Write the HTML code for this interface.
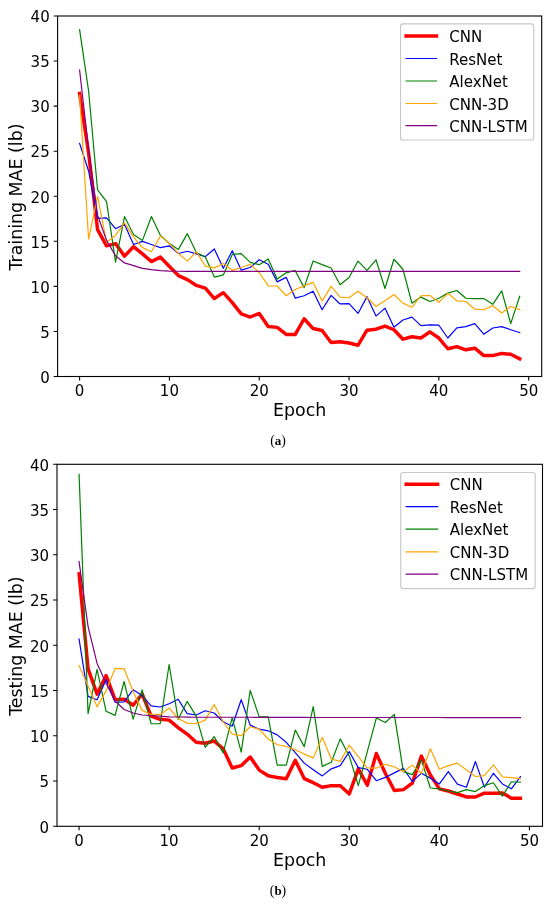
<!DOCTYPE html>
<html><head><meta charset="utf-8"><title>MAE</title>
<style>
html,body{margin:0;padding:0;background:#fff;}
svg{display:block;}
.tk{font-family:'DejaVu Sans','Liberation Sans',sans-serif;font-size:15.0px;fill:#000;}
.lab{font-family:'DejaVu Sans','Liberation Sans',sans-serif;font-size:17.4px;fill:#000;}
.lg{font-family:'DejaVu Sans','Liberation Sans',sans-serif;font-size:15.0px;fill:#000;}
.cap{font-family:'Liberation Serif','DejaVu Serif',serif;font-size:13.8px;fill:#000;}
</style></head>
<body>
<svg width="550" height="904" viewBox="0 0 550 904">
<rect width="550" height="904" fill="#fff"/>
<clipPath id="c16"><rect x="57.60" y="16.00" width="484.10" height="360.50"/></clipPath>
<g clip-path="url(#c16)" fill="none" stroke-linejoin="round" stroke-linecap="square">
<polyline points="79.60,93.51 88.59,152.99 97.57,229.60 106.55,245.82 115.53,243.57 124.51,256.18 133.49,246.72 142.47,253.93 151.46,261.59 160.44,257.08 169.42,266.55 178.40,275.56 187.38,279.62 196.36,285.47 205.34,288.18 214.33,298.54 223.31,292.68 232.29,302.60 241.27,313.86 250.25,317.02 259.23,313.41 268.21,326.48 277.20,327.38 286.18,334.41 295.16,334.59 304.14,318.73 313.12,328.55 322.10,330.54 331.09,342.43 340.07,341.71 349.05,342.97 358.03,345.23 367.01,330.18 375.99,329.18 384.97,326.03 393.96,329.73 402.94,339.19 411.92,336.75 420.90,338.02 429.88,331.80 438.86,338.02 447.84,348.74 456.83,346.58 465.81,349.82 474.79,348.20 483.77,355.59 492.75,355.59 501.73,353.43 510.71,354.24 519.70,358.84" stroke="#ff0000" stroke-width="3.45"/>
<polyline points="79.60,143.44 88.59,171.01 97.57,218.33 106.55,217.88 115.53,228.70 124.51,224.19 133.49,244.47 142.47,241.31 151.46,244.47 160.44,247.62 169.42,245.82 178.40,253.48 187.38,251.23 196.36,253.93 205.34,256.63 214.33,248.97 223.31,268.35 232.29,250.69 241.27,270.15 250.25,267.45 259.23,259.70 268.21,264.29 277.20,281.87 286.18,277.36 295.16,298.09 304.14,295.75 313.12,291.24 322.10,309.72 331.09,295.39 340.07,303.95 349.05,303.59 358.03,313.41 367.01,296.65 375.99,316.12 384.97,308.10 393.96,327.20 402.94,319.99 411.92,317.11 420.90,325.58 429.88,324.95 438.86,325.22 447.84,338.02 456.83,327.83 465.81,326.57 474.79,323.60 483.77,334.23 492.75,328.01 501.73,326.57 510.71,329.73 519.70,332.61" stroke="#0000ff" stroke-width="1.2"/>
<polyline points="79.60,29.70 88.59,90.80 97.57,189.94 106.55,201.66 115.53,262.04 124.51,216.53 133.49,234.55 142.47,240.41 151.46,216.53 160.44,235.45 169.42,243.57 178.40,249.42 187.38,233.65 196.36,252.58 205.34,257.08 214.33,277.09 223.31,274.93 232.29,254.47 241.27,253.66 250.25,262.31 259.23,264.65 268.21,258.89 277.20,279.07 286.18,272.86 295.16,270.42 304.14,287.64 313.12,261.05 322.10,264.65 331.09,267.99 340.07,284.66 349.05,277.45 358.03,261.05 367.01,270.42 375.99,259.79 384.97,288.45 393.96,259.25 402.94,269.25 411.92,303.14 420.90,297.10 429.88,301.52 438.86,298.27 447.84,293.13 456.83,290.52 465.81,298.27 474.79,298.72 483.77,298.54 492.75,304.31 501.73,290.88 510.71,323.60 519.70,296.29" stroke="#008000" stroke-width="1.2"/>
<polyline points="79.60,95.31 88.59,239.06 97.57,196.25 106.55,242.21 115.53,235.45 124.51,222.84 133.49,236.81 142.47,247.62 151.46,251.68 160.44,235.91 169.42,243.57 178.40,253.48 187.38,261.14 196.36,251.68 205.34,266.10 214.33,267.90 223.31,263.48 232.29,270.33 241.27,267.45 250.25,264.29 259.23,272.50 268.21,285.92 277.20,286.01 286.18,295.75 295.16,289.53 304.14,285.92 313.12,282.32 322.10,301.07 331.09,286.38 340.07,297.10 349.05,297.73 358.03,291.24 367.01,297.73 375.99,306.47 384.97,300.70 393.96,294.49 402.94,303.14 411.92,307.28 420.90,295.75 429.88,295.39 438.86,302.33 447.84,293.31 456.83,300.79 465.81,301.52 474.79,309.18 483.77,309.72 492.75,305.66 501.73,312.96 510.71,306.47 519.70,309.72" stroke="#ffa500" stroke-width="1.2"/>
<polyline points="79.60,70.07 88.59,149.38 97.57,215.18 106.55,240.41 115.53,255.73 124.51,262.94 133.49,265.65 142.47,268.35 151.46,269.70 160.44,270.60 169.42,271.05 178.40,271.23 187.38,271.32 196.36,271.32 205.34,271.32 214.33,271.32 223.31,271.32 232.29,271.32 241.27,271.32 250.25,271.32 259.23,271.32 268.21,271.32 277.20,271.32 286.18,271.32 295.16,271.32 304.14,271.32 313.12,271.32 322.10,271.32 331.09,271.32 340.07,271.32 349.05,271.32 358.03,271.32 367.01,271.32 375.99,271.32 384.97,271.32 393.96,271.32 402.94,271.32 411.92,271.32 420.90,271.32 429.88,271.32 438.86,271.32 447.84,271.32 456.83,271.32 465.81,271.32 474.79,271.32 483.77,271.32 492.75,271.32 501.73,271.32 510.71,271.32 519.70,271.32" stroke="#800080" stroke-width="1.2"/>
</g>
<rect x="57.60" y="16.00" width="484.10" height="360.50" fill="none" stroke="#000" stroke-width="1.1" stroke-linejoin="miter"/>
<path d="M79.60,376.50v3.9M169.42,376.50v3.9M259.23,376.50v3.9M349.05,376.50v3.9M438.86,376.50v3.9M528.68,376.50v3.9M57.60,376.50h-3.9M57.60,331.44h-3.9M57.60,286.38h-3.9M57.60,241.31h-3.9M57.60,196.25h-3.9M57.60,151.19h-3.9M57.60,106.12h-3.9M57.60,61.06h-3.9M57.60,16.00h-3.9" stroke="#000" stroke-width="1.1" fill="none"/>
<text x="79.60" y="396.00" text-anchor="middle" class="tk">0</text>
<text x="169.42" y="396.00" text-anchor="middle" class="tk">10</text>
<text x="259.23" y="396.00" text-anchor="middle" class="tk">20</text>
<text x="349.05" y="396.00" text-anchor="middle" class="tk">30</text>
<text x="438.86" y="396.00" text-anchor="middle" class="tk">40</text>
<text x="528.68" y="396.00" text-anchor="middle" class="tk">50</text>
<text x="49.70" y="382.80" text-anchor="end" class="tk">0</text>
<text x="49.70" y="337.74" text-anchor="end" class="tk">5</text>
<text x="49.70" y="292.68" text-anchor="end" class="tk">10</text>
<text x="49.70" y="247.61" text-anchor="end" class="tk">15</text>
<text x="49.70" y="202.55" text-anchor="end" class="tk">20</text>
<text x="49.70" y="157.49" text-anchor="end" class="tk">25</text>
<text x="49.70" y="112.42" text-anchor="end" class="tk">30</text>
<text x="49.70" y="67.36" text-anchor="end" class="tk">35</text>
<text x="49.70" y="22.30" text-anchor="end" class="tk">40</text>
<text x="299.65" y="416.20" text-anchor="middle" class="lab">Epoch</text>
<text transform="translate(22.2,197.05) rotate(-90)" text-anchor="middle" class="lab">Training MAE (lb)</text>
<rect x="400.5" y="23.9" width="133.20000000000005" height="116.1" rx="2.5" fill="#fff" fill-opacity="0.8" stroke="#c8c8c8" stroke-width="1.15"/>
<line x1="406.1" y1="36.0" x2="436.5" y2="36.0" stroke="#ff0000" stroke-width="3.45" stroke-linecap="square"/>
<text x="449.3" y="42.10" class="lg">CNN</text>
<line x1="406.1" y1="58.5" x2="436.5" y2="58.5" stroke="#0000ff" stroke-width="1.2" stroke-linecap="square"/>
<text x="449.3" y="64.60" class="lg">ResNet</text>
<line x1="406.1" y1="81.0" x2="436.5" y2="81.0" stroke="#008000" stroke-width="1.2" stroke-linecap="square"/>
<text x="449.3" y="87.10" class="lg">AlexNet</text>
<line x1="406.1" y1="103.5" x2="436.5" y2="103.5" stroke="#ffa500" stroke-width="1.2" stroke-linecap="square"/>
<text x="449.3" y="109.60" class="lg">CNN-3D</text>
<line x1="406.1" y1="125.7" x2="436.5" y2="125.7" stroke="#800080" stroke-width="1.2" stroke-linecap="square"/>
<text x="449.3" y="131.80" class="lg">CNN-LSTM</text>
<text x="278" y="445.0" text-anchor="middle" class="cap">(<tspan font-weight="bold" font-size="13px">a</tspan>)</text>
<clipPath id="c464"><rect x="57.00" y="464.30" width="485.50" height="362.00"/></clipPath>
<g clip-path="url(#c464)" fill="none" stroke-linejoin="round" stroke-linecap="square">
<polyline points="79.07,573.80 88.08,668.83 97.08,694.17 106.09,675.44 115.10,699.60 124.11,699.15 133.11,705.21 142.12,693.99 151.13,716.07 160.13,719.33 169.14,720.14 178.15,727.56 187.16,734.08 196.16,742.32 205.17,743.22 214.18,741.05 223.19,748.83 232.19,768.02 241.20,765.66 250.21,756.98 259.22,770.10 268.22,775.80 277.23,777.43 286.24,778.79 295.25,760.24 304.25,778.61 313.26,782.68 322.27,787.29 331.28,785.67 340.28,785.67 349.29,793.90 358.30,768.83 367.31,785.21 376.31,753.45 385.32,773.27 394.33,790.46 403.34,789.65 412.34,783.13 421.35,756.07 430.36,774.90 439.37,788.83 448.37,791.00 457.38,793.99 466.39,796.98 475.39,796.98 484.40,793.18 493.41,793.18 502.42,792.91 511.42,798.15 520.43,798.15" stroke="#ff0000" stroke-width="3.45"/>
<polyline points="79.07,638.97 88.08,696.43 97.08,699.78 106.09,679.69 115.10,702.13 124.11,701.86 133.11,689.64 142.12,695.62 151.13,705.93 160.13,707.02 169.14,703.76 178.15,699.24 187.16,713.63 196.16,714.99 205.17,710.73 214.18,712.99 223.19,721.77 232.19,726.21 241.20,699.69 250.21,725.12 259.22,729.19 268.22,730.82 277.23,734.89 286.24,742.32 295.25,752.54 304.25,763.13 313.26,769.65 322.27,775.89 331.28,768.83 340.28,765.57 349.29,751.64 358.30,767.66 367.31,769.28 376.31,780.69 385.32,777.43 394.33,772.90 403.34,768.38 412.34,781.50 421.35,773.18 430.36,778.15 439.37,783.95 448.37,771.64 457.38,784.13 466.39,787.20 475.39,761.50 484.40,787.20 493.41,773.27 502.42,783.95 511.42,788.83 520.43,776.52" stroke="#0000ff" stroke-width="1.2"/>
<polyline points="79.07,474.26 88.08,713.63 97.08,669.28 106.09,711.27 115.10,715.35 124.11,681.50 133.11,719.06 142.12,689.92 151.13,723.76 160.13,723.76 169.14,664.49 178.15,719.33 187.16,701.41 196.16,716.07 205.17,747.38 214.18,736.52 223.19,752.90 232.19,717.70 241.20,752.09 250.21,690.37 259.22,716.89 268.22,716.89 277.23,765.21 286.24,765.21 295.25,730.01 304.25,746.66 313.26,706.66 322.27,766.39 331.28,762.32 340.28,738.88 349.29,756.16 358.30,785.67 367.31,751.64 376.31,718.06 385.32,722.50 394.33,714.35 403.34,771.64 412.34,774.62 421.35,759.87 430.36,788.02 439.37,788.83 448.37,791.00 457.38,792.63 466.39,789.65 475.39,791.55 484.40,785.57 493.41,782.77 502.42,796.16 511.42,781.77 520.43,782.23" stroke="#008000" stroke-width="1.2"/>
<polyline points="79.07,665.66 88.08,686.02 97.08,706.84 106.09,690.91 115.10,668.29 124.11,668.83 133.11,691.45 142.12,710.37 151.13,714.44 160.13,714.44 169.14,708.20 178.15,718.51 187.16,723.13 196.16,723.76 205.17,720.14 214.18,704.58 223.19,721.77 232.19,734.08 241.20,735.71 250.21,726.75 259.22,729.19 268.22,738.97 277.23,744.76 286.24,746.30 295.25,749.83 304.25,754.08 313.26,757.88 322.27,737.25 331.28,758.97 340.28,761.41 349.29,745.12 358.30,756.52 367.31,768.02 376.31,768.20 385.32,764.31 394.33,766.75 403.34,771.64 412.34,765.12 421.35,773.27 430.36,748.74 439.37,769.19 448.37,765.66 457.38,763.13 466.39,770.01 475.39,776.52 484.40,775.71 493.41,764.76 502.42,776.80 511.42,777.61 520.43,778.52" stroke="#ffa500" stroke-width="1.2"/>
<polyline points="79.07,561.50 88.08,626.57 97.08,663.40 106.09,683.31 115.10,700.96 124.11,709.55 133.11,712.99 142.12,714.99 151.13,715.62 160.13,716.07 169.14,716.79 178.15,716.98 187.16,717.16 196.16,717.25 205.17,717.25 214.18,717.25 223.19,717.25 232.19,717.25 241.20,717.25 250.21,717.25 259.22,717.34 268.22,717.34 277.23,717.34 286.24,717.43 295.25,717.43 304.25,717.43 313.26,717.52 322.27,717.52 331.28,717.52 340.28,717.52 349.29,717.52 358.30,717.52 367.31,717.52 376.31,717.52 385.32,717.52 394.33,717.52 403.34,717.52 412.34,717.52 421.35,717.52 430.36,717.52 439.37,717.52 448.37,717.61 457.38,717.61 466.39,717.61 475.39,717.61 484.40,717.61 493.41,717.61 502.42,717.61 511.42,717.61 520.43,717.61" stroke="#800080" stroke-width="1.2"/>
</g>
<rect x="57.00" y="464.30" width="485.50" height="362.00" fill="none" stroke="#000" stroke-width="1.1" stroke-linejoin="miter"/>
<path d="M79.07,826.30v3.9M169.14,826.30v3.9M259.22,826.30v3.9M349.29,826.30v3.9M439.37,826.30v3.9M529.44,826.30v3.9M57.00,826.30h-3.9M57.00,781.05h-3.9M57.00,735.80h-3.9M57.00,690.55h-3.9M57.00,645.30h-3.9M57.00,600.05h-3.9M57.00,554.80h-3.9M57.00,509.55h-3.9M57.00,464.30h-3.9" stroke="#000" stroke-width="1.1" fill="none"/>
<text x="79.07" y="845.60" text-anchor="middle" class="tk">0</text>
<text x="169.14" y="845.60" text-anchor="middle" class="tk">10</text>
<text x="259.22" y="845.60" text-anchor="middle" class="tk">20</text>
<text x="349.29" y="845.60" text-anchor="middle" class="tk">30</text>
<text x="439.37" y="845.60" text-anchor="middle" class="tk">40</text>
<text x="529.44" y="845.60" text-anchor="middle" class="tk">50</text>
<text x="49.10" y="832.60" text-anchor="end" class="tk">0</text>
<text x="49.10" y="787.35" text-anchor="end" class="tk">5</text>
<text x="49.10" y="742.10" text-anchor="end" class="tk">10</text>
<text x="49.10" y="696.85" text-anchor="end" class="tk">15</text>
<text x="49.10" y="651.60" text-anchor="end" class="tk">20</text>
<text x="49.10" y="606.35" text-anchor="end" class="tk">25</text>
<text x="49.10" y="561.10" text-anchor="end" class="tk">30</text>
<text x="49.10" y="515.85" text-anchor="end" class="tk">35</text>
<text x="49.10" y="470.60" text-anchor="end" class="tk">40</text>
<text x="299.75" y="865.80" text-anchor="middle" class="lab">Epoch</text>
<text transform="translate(22.2,646.10) rotate(-90)" text-anchor="middle" class="lab">Testing MAE (lb)</text>
<rect x="400.7" y="472.5" width="134.50000000000006" height="116.10000000000002" rx="2.5" fill="#fff" fill-opacity="0.8" stroke="#c8c8c8" stroke-width="1.15"/>
<line x1="406.2" y1="484.3" x2="437.6" y2="484.3" stroke="#ff0000" stroke-width="3.45" stroke-linecap="square"/>
<text x="449.8" y="490.40" class="lg">CNN</text>
<line x1="406.2" y1="506.6" x2="437.6" y2="506.6" stroke="#0000ff" stroke-width="1.2" stroke-linecap="square"/>
<text x="449.8" y="512.70" class="lg">ResNet</text>
<line x1="406.2" y1="529.2" x2="437.6" y2="529.2" stroke="#008000" stroke-width="1.2" stroke-linecap="square"/>
<text x="449.8" y="535.30" class="lg">AlexNet</text>
<line x1="406.2" y1="551.8" x2="437.6" y2="551.8" stroke="#ffa500" stroke-width="1.2" stroke-linecap="square"/>
<text x="449.8" y="557.90" class="lg">CNN-3D</text>
<line x1="406.2" y1="574.2" x2="437.6" y2="574.2" stroke="#800080" stroke-width="1.2" stroke-linecap="square"/>
<text x="449.8" y="580.30" class="lg">CNN-LSTM</text>
<text x="278" y="894.8" text-anchor="middle" class="cap">(<tspan font-weight="bold" font-size="13px">b</tspan>)</text>
</svg>
</body></html>
